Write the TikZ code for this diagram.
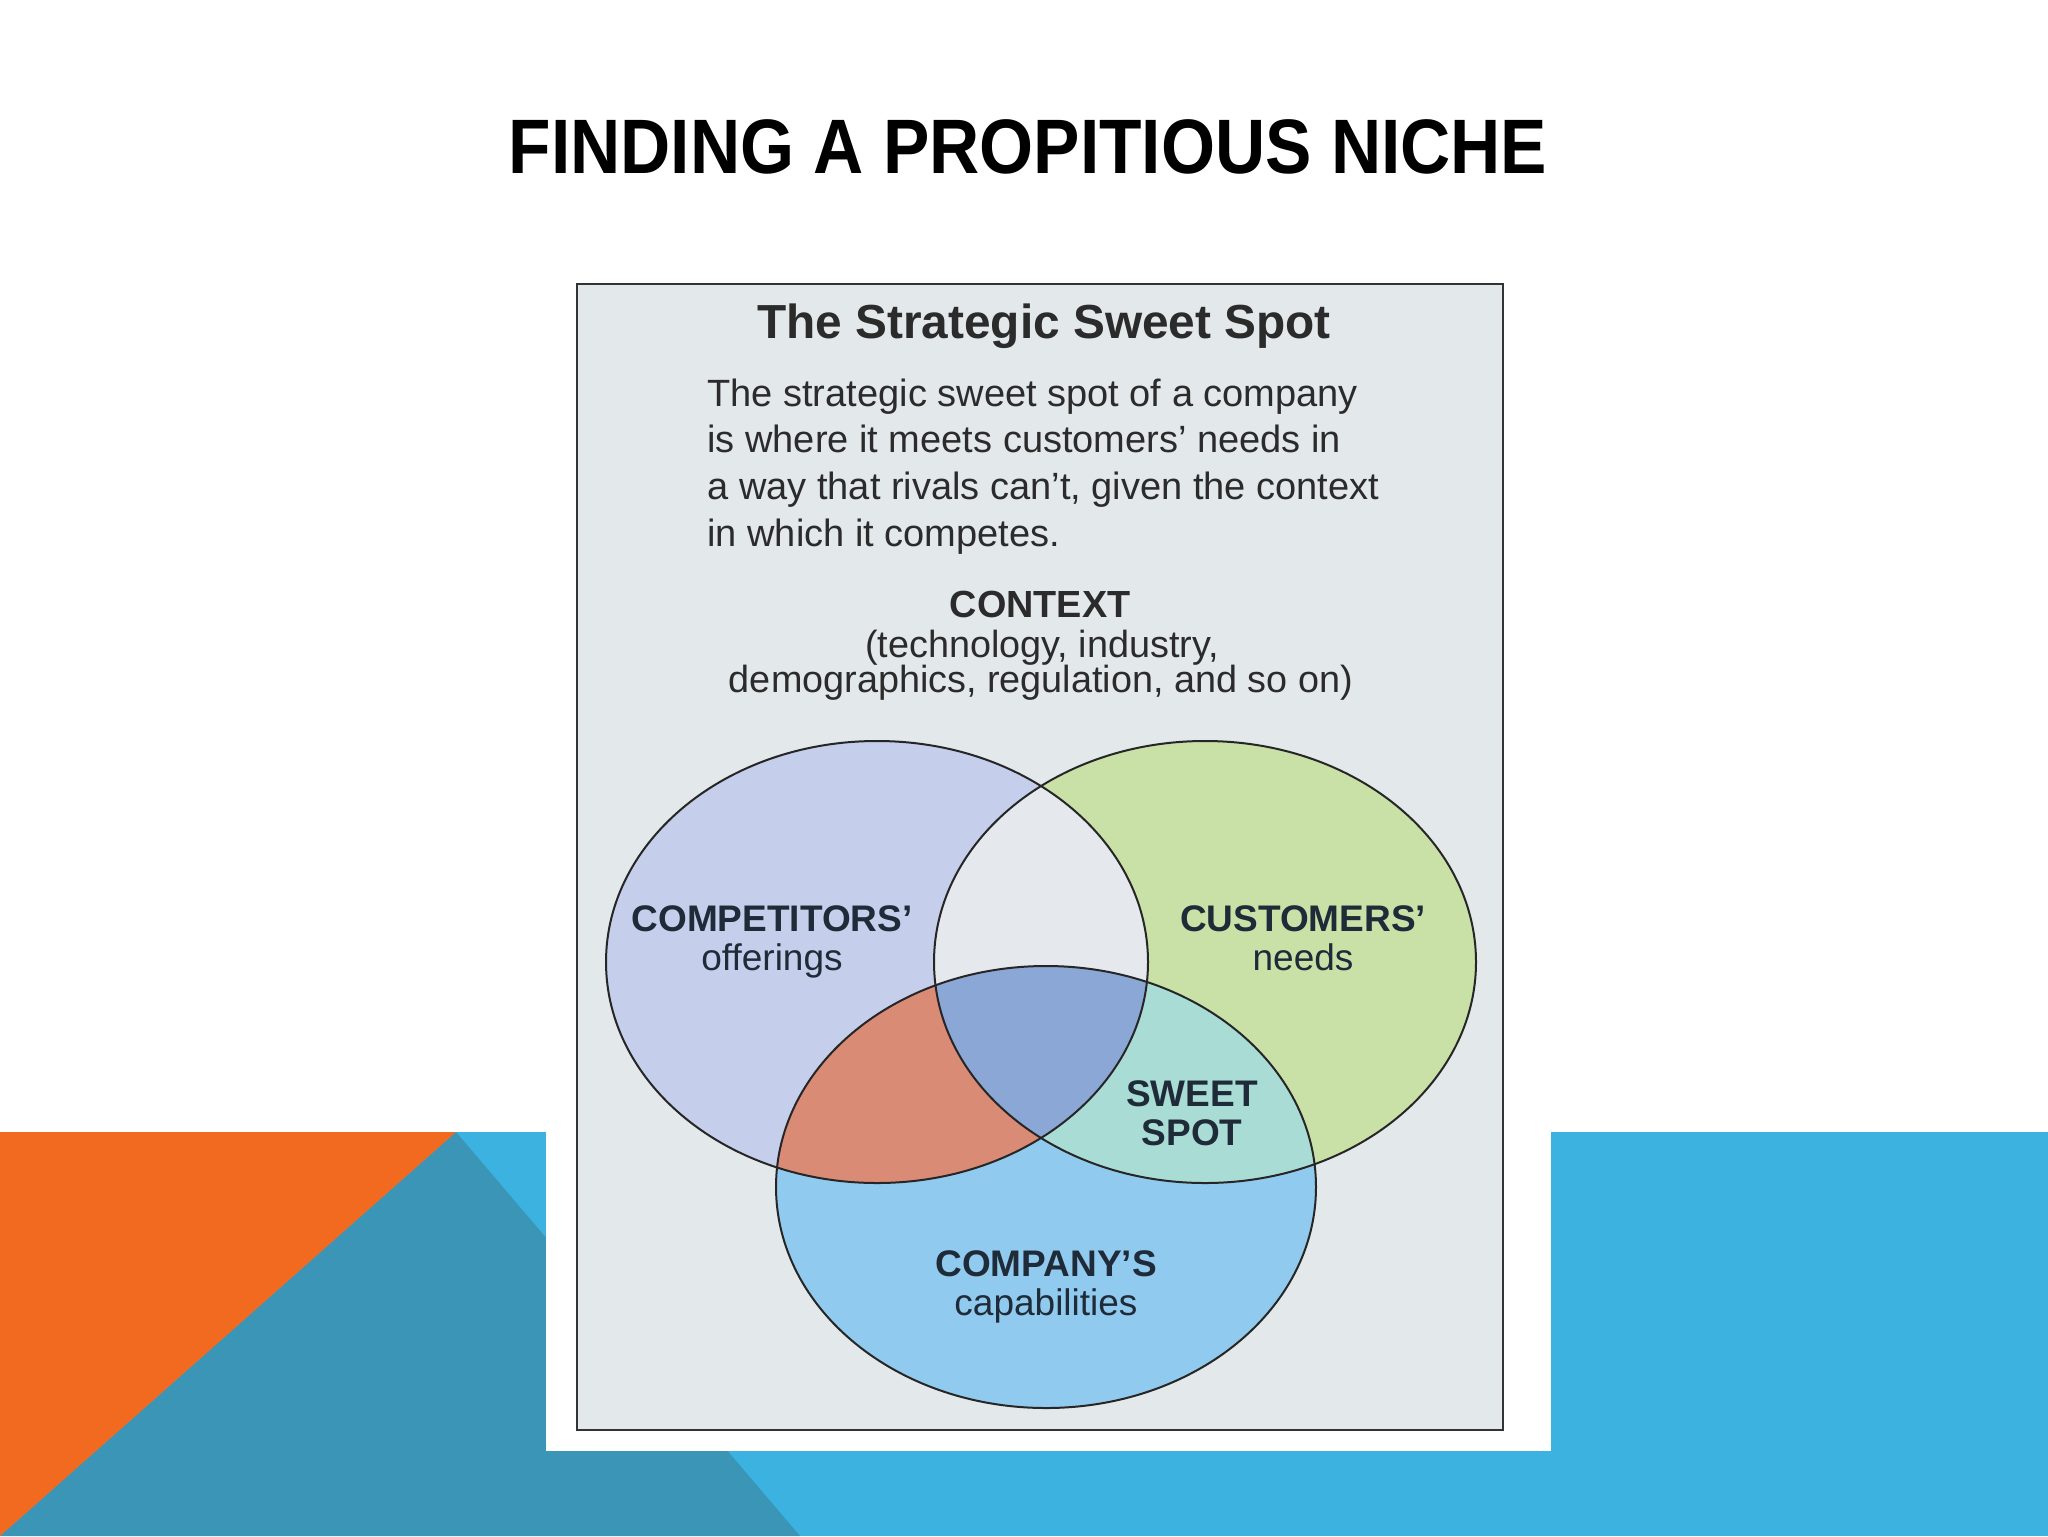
\documentclass[tikz,border=0pt]{standalone}
\usepackage{fontspec}
\setmainfont{Liberation Sans}
\newfontfamily\titlefont[FakeStretch=0.9]{Liberation Sans}

\definecolor{orangebg}{HTML}{F26A1F}
\definecolor{tealbg}{HTML}{3A95B6}
\definecolor{skybg}{HTML}{3BB2E0}
\definecolor{panelgray}{HTML}{E3E8EB}
\definecolor{competfill}{HTML}{C5CFEB}
\definecolor{customfill}{HTML}{C9E1A7}
\definecolor{companyfill}{HTML}{90CAEE}
\definecolor{salmonfill}{HTML}{D98B75}
\definecolor{mintfill}{HTML}{A8DCD5}
\definecolor{corefill}{HTML}{8BA7D6}
\definecolor{lensfill}{HTML}{E5E9EE}
\definecolor{bodyink}{HTML}{2B2B2B}
\definecolor{labelink}{HTML}{1F2B38}

% the three circles of the sweet spot picture
\newcommand{\competpath}{(877,962) ellipse [x radius=135.5pt, y radius=110.5pt]}
\newcommand{\custompath}{(1205,962) ellipse [x radius=135.5pt, y radius=110.5pt]}
\newcommand{\companypath}{(1046,1187) ellipse [x radius=135pt, y radius=110.5pt]}

\begin{document}
\begin{tikzpicture}[x=0.5pt, y=-0.5pt,
    vennline/.style={draw=black!85, line width=1pt},
    bodytext/.style={font=\fontsize{19}{23}\selectfont, text=bodyink, inner sep=0pt},
    venntext/.style={font=\fontsize{18.5}{19.5}\selectfont, text=labelink, align=center, inner sep=0pt}]
    \useasboundingbox (0,0) rectangle (2048,1536);
    \fill[white] (0,0) rectangle (2048,1536);

    % Draw the slide background at the bottom
    \fill[skybg] (0,1132) rectangle (2048,1536);
    \fill[tealbg] (456,1132) -- (800,1536) -- (0,1536) -- cycle;
    \fill[orangebg] (0,1132) -- (456,1132) -- (0,1536) -- cycle;

    % Slide title
    \node[anchor=base, font=\titlefont\bfseries\fontsize{38.6}{40}\selectfont] (title) at (1028,173) {FINDING A PROPITIOUS NICHE};

    % White frame and gray panel
    \fill[white] (546,262) rectangle (1551,1451);
    \filldraw[fill=panelgray, draw=black!80, line width=1pt] (577,284) rectangle (1503,1430);

    % Panel heading and text
    \node[anchor=base, font=\bfseries\fontsize{23.9}{26}\selectfont, text=bodyink] (heading) at (1044,338) {The Strategic Sweet Spot};
    \foreach \txt [count=\i] in {The strategic sweet spot of a company,
        is where it meets customers’ needs in,
        {a way that rivals can’t, given the context},
        in which it competes.} {
        \node[bodytext, anchor=base west] (line\i) at (707,{406+46.7*(\i-1)}) {\txt};
    }
    \node[bodytext, anchor=base, font=\bfseries\fontsize{18.9}{22}\selectfont] (context) at (1040,617) {CONTEXT};
    \node[bodytext, anchor=base, font=\fontsize{18.9}{22}\selectfont] (ctxa) at (1042,657) {(technology, industry,};
    \node[bodytext, anchor=base, font=\fontsize{18.9}{22}\selectfont] (ctxb) at (1041,692) {demographics, regulation, and so on)};

    % Fill the three circles
    \fill[competfill] \competpath;
    \fill[customfill] \custompath;
    \fill[companyfill] \companypath;

    % Fill the overlaps
    \begin{scope}
        \clip \competpath;
        \fill[lensfill] \custompath;
        \fill[salmonfill] \companypath;
    \end{scope}
    \begin{scope}
        \clip \custompath;
        \fill[mintfill] \companypath;
    \end{scope}
    \begin{scope}
        \clip \competpath;
        \clip \custompath;
        \fill[corefill] \companypath;
    \end{scope}

    % Outline the circles
    \draw[vennline] \competpath;
    \draw[vennline] \custompath;
    \draw[vennline] \companypath;

    % Label the circles
    \node[venntext] (competitors) at (772,942) {\textbf{COMPETITORS’}\\offerings};
    \node[venntext] (customers) at (1303,938) {\textbf{CUSTOMERS’}\\needs};
    \node[venntext] (sweetspot) at (1192,1113) {\textbf{SWEET}\\\textbf{SPOT}};
    \node[venntext] (company) at (1046,1287) {\textbf{COMPANY’S}\\capabilities};
\end{tikzpicture}
\end{document}
